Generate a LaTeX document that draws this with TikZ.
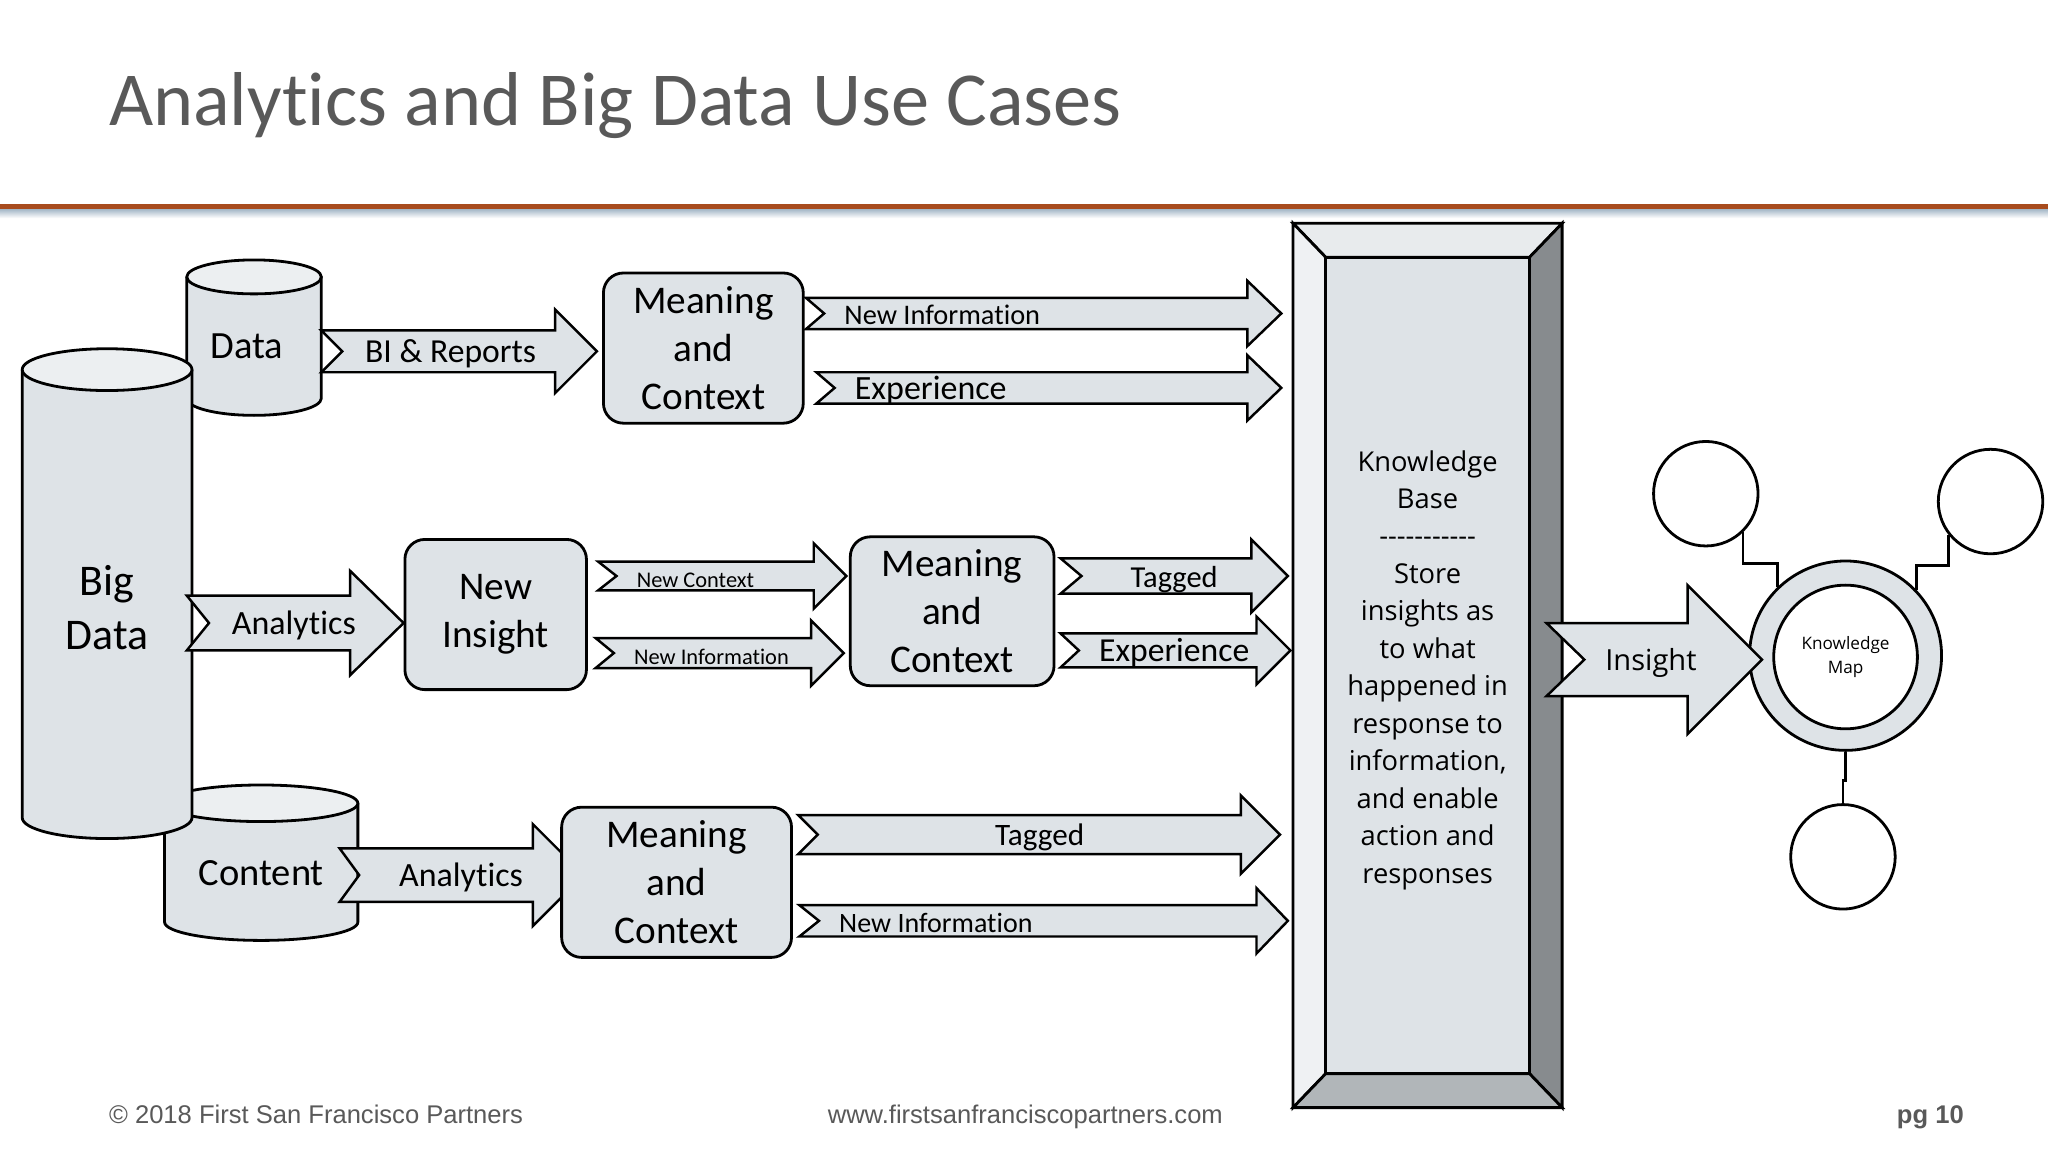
\documentclass[tikz,border=0pt]{standalone}
\usepackage{fontspec}
\setmainfont{Carlito}[Ligatures=NoCommon]
\newfontfamily\kbfont{Open Sans}
\newfontfamily\footfont{Liberation Sans}
\usepackage{tikz}
\usetikzlibrary{shapes.geometric}

\definecolor{boxfill}{RGB}{222,227,231}
\definecolor{capfill}{RGB}{236,239,241}
\definecolor{titlegray}{RGB}{89,89,89}
\definecolor{rulecol}{RGB}{168,76,30}
\definecolor{ruleshadow}{RGB}{150,172,190}
\definecolor{bevtop}{RGB}{232,235,237}
\definecolor{bevleft}{RGB}{239,241,243}
\definecolor{bevright}{RGB}{135,139,142}
\definecolor{bevbottom}{RGB}{177,182,185}

\newcommand{\upx}{0.0131cm}
% block arrow: tail x, notch, head x, tip x, mid y, half shaft, half head
\newcommand{\blockarrow}[7]{%
  \draw[arrowbody] (#1,#5-#6) -- (#3,#5-#6) -- (#3,#5-#7) -- (#4,#5)
    -- (#3,#5+#7) -- (#3,#5+#6) -- (#1,#5+#6) -- (#1+#2,#5) -- cycle;}

\begin{document}
\begin{tikzpicture}[x=\upx,y=-\upx,
  box/.style={draw,line width=0.8pt,fill=boxfill,rounded corners=0.2cm,align=center,inner sep=0pt,
    font=\fontsize{11.2}{13.7}\selectfont},
  arrowbody/.style={draw,line width=0.7pt,fill=boxfill,line join=miter},
  lbl/.style={inner sep=0pt,text height=0.7em,text depth=0.2em,yshift=-0.7pt},
  cylbody/.style={draw,line width=0.8pt,fill=boxfill},
  cyltop/.style={draw,line width=0.8pt,fill=capfill},
  knob/.style={circle,draw,line width=0.8pt,fill=white,minimum size=80*\upx,inner sep=0pt},
  foot/.style={anchor=base,inner sep=0pt,text=titlegray,font=\footfont\fontsize{7.3}{9}\selectfont}]

\useasboundingbox (0,0) rectangle (1568,882);
\fill[white] (0,0) rectangle (1568,882);

% title and rule
\node[anchor=base west,inner sep=0pt,text=titlegray,font=\fontsize{21.8}{26}\selectfont] (title) at (83,96) {Analytics and Big Data Use Cases};
\shade[top color=ruleshadow,bottom color=white] (0,159) rectangle (1568,167);
\fill[rulecol] (0,156) rectangle (1568,160);

% cylinders
\draw[cylbody] (143,212) -- (143,305) arc[start angle=180,end angle=360,x radius=51.5*\upx,y radius=13*\upx] -- (246,212);
\draw[cyltop] (194.5,212) ellipse[x radius=51.5*\upx,y radius=13*\upx];
\node[lbl,font=\fontsize{11}{13}\selectfont] (data) at (189,266) {Data};

\draw[cylbody] (126,615) -- (126,706) arc[start angle=180,end angle=360,x radius=74*\upx,y radius=14*\upx] -- (274,615);
\draw[cyltop] (200,615) ellipse[x radius=74*\upx,y radius=14*\upx];
\node[lbl,font=\fontsize{11}{13}\selectfont] (content) at (200,669) {Content};

\draw[cylbody] (17,283) -- (17,626) arc[start angle=180,end angle=360,x radius=65*\upx,y radius=16*\upx] -- (147,283);
\draw[cyltop] (82,283) ellipse[x radius=65*\upx,y radius=16*\upx];
\node[align=center,inner sep=0pt,font=\fontsize{12.5}{15.5}\selectfont] (bigdata) at (82,465) {Big\\Data};

% top row
\blockarrow{246}{16}{425}{457}{269}{16}{32}
\node[lbl,font=\fontsize{9.6}{11}\selectfont] (bi) at (345,269) {BI \& Reports};
\node[box,minimum width=153*\upx,minimum height=115*\upx] (mc1) at (538.5,266.5) {Meaning\\and\\Context};
\blockarrow{617}{14}{955}{981}{240}{12}{25}
\node[lbl,anchor=west,font=\fontsize{8.1}{10}\selectfont] (info1) at (646,240) {New Information};
\blockarrow{625}{14}{955}{981}{297}{12}{25}
\node[lbl,anchor=west,font=\fontsize{9.7}{11}\selectfont] (exp1) at (654,297) {Experience};

% middle row
\blockarrow{143}{17}{268}{309}{477}{21}{40}
\node[lbl,font=\fontsize{9.7}{11}\selectfont] (ana2) at (225,477) {Analytics};
\node[box,minimum width=139*\upx,minimum height=115*\upx] (ni) at (379.5,470.5) {New\\Insight};
\blockarrow{458}{14}{623}{648}{441}{11}{25}
\node[lbl,anchor=west,font=\fontsize{6.4}{8}\selectfont] (ctx2) at (487,441) {New Context};
\blockarrow{456}{14}{621}{646}{500}{11.5}{25}
\node[lbl,anchor=west,font=\fontsize{6.4}{8}\selectfont] (info2) at (485,500) {New Information};
\node[box,minimum width=156*\upx,minimum height=114*\upx] (mc2) at (729,468) {Meaning\\and\\Context};
\blockarrow{812}{16}{958}{986}{441}{13.5}{28}
\node[lbl,font=\fontsize{8.7}{10}\selectfont] (tag2) at (899,441) {Tagged};
\blockarrow{812}{14}{962}{988}{498}{13}{26}
\node[lbl,font=\fontsize{9.6}{11}\selectfont] (exp2) at (899,498) {Experience};

% bottom row
\blockarrow{260}{15}{408}{447}{670}{20.5}{39}
\node[lbl,font=\fontsize{9.7}{11}\selectfont] (ana3) at (353,670) {Analytics};
\node[box,minimum width=176*\upx,minimum height=115*\upx] (mc3) at (518,675.5) {Meaning\\and\\Context};
\blockarrow{611}{15}{950}{980}{639}{15}{30}
\node[lbl,font=\fontsize{8.9}{10}\selectfont] (tag3) at (796,639) {Tagged};
\blockarrow{612}{15}{962}{986}{705}{12}{25}
\node[lbl,anchor=west,font=\fontsize{8}{10}\selectfont] (info3) at (642,705) {New Information};

% knowledge base
\filldraw[fill=bevtop,line width=0.8pt] (990,171) -- (1196,171) -- (1171,197) -- (1015,197) -- cycle;
\filldraw[fill=bevleft,line width=0.8pt] (990,171) -- (1015,197) -- (1015,822) -- (990,848) -- cycle;
\filldraw[fill=bevright,line width=0.8pt] (1196,171) -- (1196,848) -- (1171,822) -- (1171,197) -- cycle;
\filldraw[fill=bevbottom,line width=0.8pt] (990,848) -- (1196,848) -- (1171,822) -- (1015,822) -- cycle;
\node[draw,line width=0.8pt,fill=boxfill,minimum width=156*\upx,minimum height=625*\upx,inner sep=0pt] (kb) at (1093,509.5) {};
\node[align=center,inner sep=0pt,font=\kbfont\fontsize{7.8}{10.7}\selectfont] (kbtext) at (1093,513)
  {Knowledge\\Base\\-----------\\Store\\insights as\\to what\\happened in\\response to\\information,\\and enable\\action and\\responses};

% knowledge map
\node[ellipse,draw,line width=0.8pt,fill=boxfill,minimum width=147*\upx,minimum height=145*\upx,inner sep=0pt] (kmring) at (1413,502) {};
\node[circle,draw,line width=0.8pt,fill=white,minimum size=110*\upx,inner sep=0pt,align=center,
  font=\kbfont\fontsize{4.9}{6.7}\selectfont] (km) at (1413,503) {Knowledge\\Map};
\blockarrow{1184}{29}{1292}{1349}{505}{28}{57}
\node[lbl,font=\kbfont\fontsize{8.3}{10}\selectfont] (insight) at (1264,505) {Insight};
\node[knob] (kmc1) at (1306,378) {};
\node[knob] (kmc2) at (1524,384) {};
\node[knob] (kmc3) at (1411,656) {};
\draw[line width=0.8pt] (kmc1.-46) -- ++(0,24) -| (kmring.135);
\draw[line width=0.8pt] (kmc2.219) -- ++(0,23) -| (kmring.43);
\draw[line width=0.8pt] (kmring.south) -- ++(0,22) -| (kmc3.north);

% footer
\node[foot,anchor=base west] (copy) at (83,860) {© 2018 First San Francisco Partners};
\node[foot] (web) at (785,860) {www.firstsanfranciscopartners.com};
\node[foot,anchor=base east,font=\footfont\bfseries\fontsize{7.3}{9}\selectfont] (page) at (1504,860) {pg 10};
\end{tikzpicture}
\end{document}
